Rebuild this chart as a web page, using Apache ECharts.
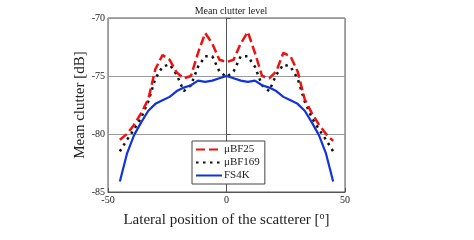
<!DOCTYPE html>
<html><head><meta charset="utf-8">
<script src="https://cdn.jsdelivr.net/npm/echarts@6/dist/echarts.min.js"></script>
<style>html,body{margin:0;padding:0;background:#fff}#c{width:474px;height:240px}</style>
</head><body><div id="c"></div>
<script>
const positions = [-45,-42,-39,-36,-33,-30,-27,-24,-21,-18,-15,-12,-9,-6,-3,0,3,6,9,12,15,18,21,24,27,30,33,36,39,42,45];
const bf25  = [-80.5,-80.0,-79.2,-78.2,-77.0,-74.4,-73.2,-73.6,-74.7,-75.2,-75.0,-73.0,-71.3,-72.2,-73.6,-73.8,-73.6,-72.2,-71.2,-73.0,-75.0,-75.2,-74.6,-73.0,-73.3,-74.6,-77.0,-78.2,-79.2,-80.0,-80.6];
const bf169 = [-81.5,-80.5,-79.6,-78.6,-77.2,-75.2,-74.2,-74.0,-74.9,-76.3,-75.8,-74.2,-73.3,-73.3,-74.6,-75.1,-74.6,-73.3,-73.3,-74.2,-75.8,-76.3,-74.9,-74.0,-74.2,-75.2,-77.2,-78.6,-79.6,-80.5,-81.5];
const fs4k  = [-84.1,-81.7,-80.1,-79.0,-78.0,-77.4,-77.1,-76.8,-76.3,-76.0,-75.8,-75.4,-75.5,-75.4,-75.2,-75.0,-75.2,-75.4,-75.5,-75.4,-75.8,-76.0,-76.3,-76.8,-77.1,-77.4,-78.0,-79.0,-80.1,-81.7,-84.1];
const seriesNames = ['\u03bcBF25','\u03bcBF169','FS4K'];
const xTicks = [-50,0,50];
const yTicks = [-85,-80,-75,-70];

const pair = arr => positions.map((x,i)=>[x,arr[i]]);
const F = 'Liberation Serif';
const chart = echarts.init(document.getElementById('c'));
chart.setOption({
  animation:false,
  backgroundColor:'#fff',
  title:{text:'Mean clutter level',left:226,textAlign:'center',top:1,textStyle:{fontFamily:F,fontSize:10,fontWeight:'normal',color:'#222'}},
  grid:{left:108,right:129,top:18,bottom:48,show:true,borderColor:'#555',borderWidth:1},
  legend:{orient:'vertical',left:192,top:141,padding:[3,5,3,3],itemGap:2,itemWidth:26,itemHeight:11,
    backgroundColor:'#fff',borderColor:'#444',borderWidth:1,borderRadius:0,
    itemStyle:{opacity:0},
    textStyle:{fontFamily:F,fontSize:11,color:'#222',padding:[0,0,0,-3]},data:seriesNames},
  xAxis:{type:'value',min:xTicks[0],max:xTicks[2],interval:50,
    axisLine:{show:true,lineStyle:{color:'#555'}},
    axisTick:{inside:true,length:4,lineStyle:{color:'#555'}},
    splitLine:{show:true,lineStyle:{color:'#999',width:1}},
    axisLabel:{fontFamily:F,fontSize:10,color:'#222',margin:3},
    name:'Lateral position of the scatterer [{s|o}]',nameLocation:'middle',nameGap:19,
    nameTextStyle:{fontFamily:F,fontSize:15,color:'#222',rich:{s:{fontFamily:F,fontSize:10,color:'#222',padding:[0,0,8,0]}}}},
  yAxis:{type:'value',min:yTicks[0],max:yTicks[3],interval:5,
    axisLine:{show:true,lineStyle:{color:'#555'}},
    axisTick:{inside:true,length:4,lineStyle:{color:'#555'}},
    splitLine:{show:true,lineStyle:{color:'#999',width:1}},
    axisLabel:{fontFamily:F,fontSize:10,color:'#222',margin:3},
    name:'Mean clutter [dB]',nameLocation:'middle',nameGap:18,
    nameTextStyle:{fontFamily:F,fontSize:15,color:'#222'}},
  series:[
    {name:seriesNames[0],type:'line',data:pair(bf25),symbol:'none',z:3,
      lineStyle:{color:'#ee1111',width:2.5,type:[9,4]},itemStyle:{color:'#ee1111'}},
    {name:seriesNames[1],type:'line',data:pair(bf169),symbol:'none',z:2,
      lineStyle:{color:'#111',width:2.5,type:[2.5,4.5]},itemStyle:{color:'#111'}},
    {name:seriesNames[2],type:'line',data:pair(fs4k),symbol:'none',z:4,
      lineStyle:{color:'#1133dd',width:2.2},itemStyle:{color:'#1133dd'}}
  ]
});
</script></body></html>
